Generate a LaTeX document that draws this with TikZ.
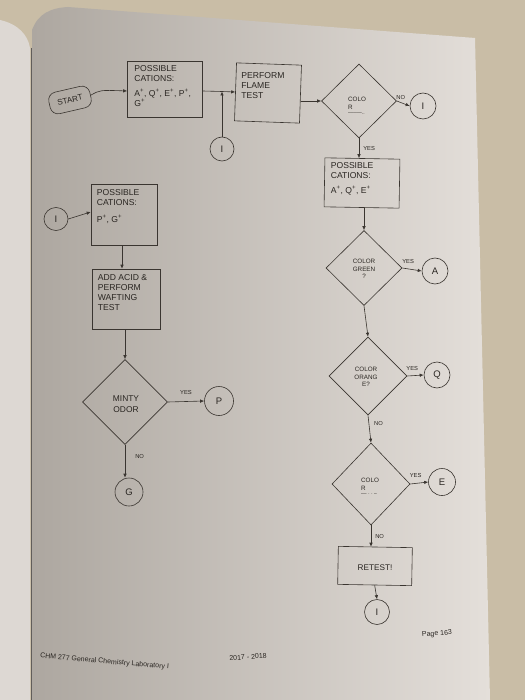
\documentclass[tikz,border=0pt]{standalone}
\usepackage{fontspec}
\setmainfont{Liberation Sans}
\usetikzlibrary{shapes.geometric,arrows.meta}
\definecolor{bgc}{HTML}{C9BDA6}
\definecolor{pageL}{HTML}{ADA7A0}
\definecolor{pageR}{HTML}{E4DFDA}
\definecolor{leftpg}{HTML}{DDD8D3}
\definecolor{linec}{HTML}{3A3530}
\definecolor{txtc}{HTML}{2A2622}
\tikzset{
  box/.style={draw=linec, line width=0.6pt, inner sep=0},
  dia/.style={draw=linec, line width=0.6pt, diamond, inner sep=0},
  conn/.style={draw=linec, line width=0.6pt, circle, inner sep=0, text=txtc, font=\fontsize{9.5}{9.5}\selectfont},
  lbl/.style={text=txtc, font=\fontsize{5.8}{6}\selectfont, inner sep=0},
  txt/.style={text=txtc, font=\fontsize{8.6}{9.8}\selectfont, align=left, anchor=north west, inner sep=0},
  ctxt/.style={text=txtc, font=\fontsize{6.3}{7.4}\selectfont, align=center, inner sep=0},
  arr/.style={draw=linec, line width=0.6pt, -{Latex[length=4pt,width=3.5pt]}},
  foot/.style={text=txtc, font=\fontsize{7}{7}\selectfont, inner sep=0}
}
\begin{document}
\begin{tikzpicture}[x=1pt,y=-1pt]
\useasboundingbox (0,0) rectangle (525,700);
% background and page
\fill[bgc] (0,0) rectangle (525,700);
\fill[leftpg] (0,20) .. controls (18,24) and (28,35) .. (30,48) -- (30,700) -- (0,700) -- cycle;
\shade[left color=pageL, right color=pageR] (32,30) .. controls (38,14) and (50,8) .. (68,7) -- (475,38) -- (490,700) -- (32,700) -- cycle;
\draw[linec!80, line width=1pt] (31,48) -- (31,700);

% top row
\node[box, draw=linec, rounded corners=8pt, minimum width=42pt, minimum height=22pt, rotate=13, text=txtc, font=\fontsize{8}{8}\selectfont] (start) at (70,100) {START};
\node[box, minimum width=75pt, minimum height=56pt] (b1) at (165,89) {};
\node[txt] (b1t) at ([xshift=7pt,yshift=-5pt]b1.north west) {POSSIBLE\\CATIONS:\\[5pt]A\textsuperscript{+}, Q\textsuperscript{+}, E\textsuperscript{+}, P\textsuperscript{+},\\G\textsuperscript{+}};
\node[box, minimum width=65pt, minimum height=58pt, rotate=-2] (flame) at (268,93) {};
\node[txt] (flamet) at ([xshift=5pt,yshift=-10pt]flame.north west) {PERFORM\\FLAME\\TEST};
\node[dia, minimum width=75pt, minimum height=74pt] (d1) at (359,101) {};
\node[ctxt, align=left] (d1t) at (357,106) {COLO\\R\\[-2pt]{\fontsize{5}{5}\selectfont ‒‒‒‒‒..}};
\node[conn, minimum size=26pt] (i1) at (423,106) {I};
\node[conn, minimum size=24pt] (i2) at (222,149) {I};
\coordinate (j1) at (222,91.5);

\draw[arr] (start.east) .. controls (100,90) .. (b1.west |- 0,91);
\draw[linec, line width=0.6pt] (b1.east |- 0,91) -- (j1);
\draw[arr] (j1) -- (flame.west |- 0,92);
\draw[arr] (i2.north) -- (j1);
\draw[arr] (flame.east |- d1.west) -- (d1.west);
\draw[arr] (d1.east) -- (i1.west) node[lbl, pos=0.3, above=3pt] (no1) {NO};

% right column
\node[box, minimum width=75pt, minimum height=49pt, rotate=-1] (b2) at (362,183) {};
\node[txt] (b2t) at ([xshift=6pt,yshift=-5pt]b2.north west) {POSSIBLE\\CATIONS:\\[5pt]A\textsuperscript{+}, Q\textsuperscript{+}, E\textsuperscript{+}};
\draw[arr] (d1.south) -- (d1.south |- b2.north) node[lbl, midway, right=4pt] (yes1) {YES};

\node[dia, minimum width=76pt, minimum height=75pt] (d2) at (364,268) {};
\node[ctxt] (d2t) at (364,269) {COLOR\\GREEN\\?};
\node[conn, minimum size=26pt] (ca) at (435,271) {A};
\draw[arr] (d2.north |- b2.south) -- (d2.north);
\draw[arr] (d2.east) -- (ca.west) node[lbl, pos=0.3, above=5pt] (yes2) {YES};

\node[dia, minimum width=78pt, minimum height=78pt] (d3) at (368,376) {};
\node[ctxt] (d3t) at (366,377) {COLOR\\ORANG\\E?};
\node[conn, minimum size=26pt] (cq) at (437,375) {Q};
\draw[arr] (d2.south) -- (d3.north);
\draw[arr] (d3.east) -- (cq.west) node[lbl, pos=0.3, above=5pt] (yes3) {YES};

\node[dia, minimum width=78pt, minimum height=82pt] (d4) at (371,484) {};
\node[ctxt, align=left] (d4t) at (370,487) {COLO\\R\\[-2pt]{\fontsize{5}{5}\selectfont ‒‒ · · ‒}};
\node[conn, minimum size=27pt] (ce) at (442,482) {E};
\draw[arr] (d3.south) -- (d4.north) node[lbl, pos=0.3, right=5pt] (no3) {NO};
\draw[arr] (d4.east) -- (ce.west) node[lbl, pos=0.3, above=6pt] (yes4) {YES};

\node[box, minimum width=74pt, minimum height=38pt, rotate=-1] (ret) at (375,566) {};
\node[text=txtc, font=\fontsize{8.2}{9}\selectfont, inner sep=0] (rett) at (375,568) {RETEST!};
\node[conn, minimum size=25pt] (i3) at (377,612) {I};
\draw[arr] (d4.south) -- (d4.south |- ret.north) node[lbl, midway, right=4pt] (no4) {NO};
\draw[arr] (ret.south) -- (i3.north);

% left column
\node[conn, minimum width=24pt, minimum height=23pt, ellipse] (i4) at (56,219) {I};
\node[box, minimum width=66pt, minimum height=61pt] (b3) at (124,215) {};
\node[txt] (b3t) at ([xshift=6pt,yshift=-5pt]b3.north west) {POSSIBLE\\CATIONS:\\[7pt]P\textsuperscript{+}, G\textsuperscript{+}};
\draw[arr] (i4.east) -- (b3.west |- 0,212);

\node[box, minimum width=68pt, minimum height=60pt] (b4) at (126,299) {};
\node[txt] (b4t) at ([xshift=6pt,yshift=-6pt]b4.north west) {ADD ACID \&\\PERFORM\\WAFTING\\TEST};
\draw[arr] (b3.south -| 122,0) -- (b4.north -| 122,0);

\node[dia, minimum width=85pt, minimum height=85pt] (d5) at (125,402) {};
\node[text=txtc, font=\fontsize{8.4}{10.5}\selectfont, align=center, inner sep=0] (d5t) at (126,404) {MINTY\\ODOR};
\node[conn, minimum size=29pt] (cp) at (219,401) {P};
\node[conn, minimum size=28pt] (cg) at (129,492) {G};
\draw[arr] (b4.south -| 125,0) -- (d5.north);
\draw[arr] (d5.east) -- (cp.west) node[lbl, pos=0.5, above=7pt] (yes5) {YES};
\draw[arr] (d5.south) -- (cg.north -| d5.south) node[lbl, pos=0.35, right=10pt] (no5) {NO};

% footer
\node[foot, rotate=-5, anchor=west] (f1) at (40,656) {CHM 277 General Chemistry Laboratory I};
\node[foot, rotate=4] (f2) at (248,657) {2017 - 2018};
\node[foot, rotate=4] (f3) at (437,634) {Page 163};
\end{tikzpicture}
\end{document}
